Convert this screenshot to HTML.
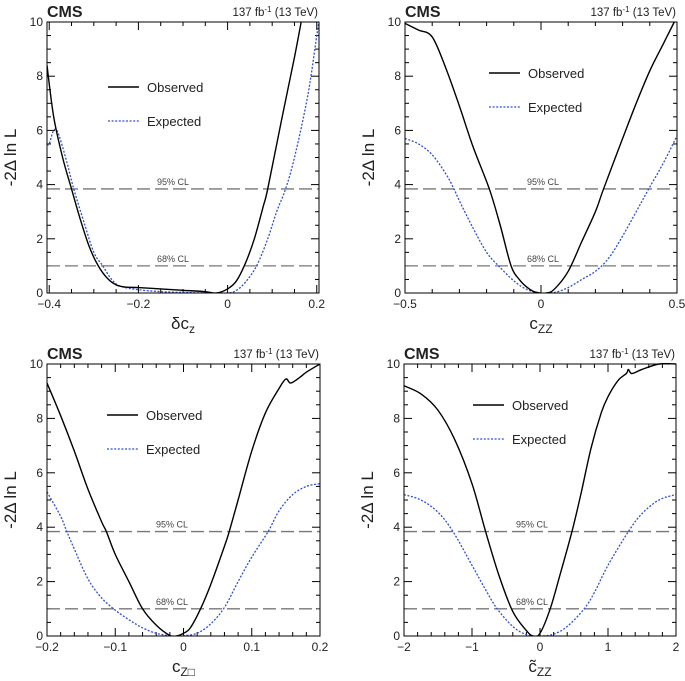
<!DOCTYPE html>
<html><head><meta charset="utf-8"><style>
html,body{margin:0;padding:0;background:#fff;}
svg{display:block;font-family:"Liberation Sans","DejaVu Sans",sans-serif;}
</style></head><body>
<svg id="fig" width="685" height="681" viewBox="0 0 685 681" xmlns="http://www.w3.org/2000/svg"></svg>
<script>
// Panel 1: delta c_z
const p1X=[-0.405,-0.39,-0.37,-0.35,-0.33,-0.31,-0.29,-0.27,-0.25,-0.23,-0.2,-0.15,-0.1,-0.05,-0.025,0,0.02,0.04,0.06,0.08,0.09,0.12,0.15,0.165];
const p1Obs=[8.4,6.5,5.0,3.84,2.7,1.7,1.0,0.55,0.3,0.22,0.2,0.15,0.1,0.05,0.0,0.15,0.45,1.1,2.0,3.2,3.84,6.3,8.7,10];
const p1ExpX=[-0.405,-0.4,-0.39,-0.38,-0.36,-0.345,-0.32,-0.3,-0.28,-0.26,-0.24,-0.2,-0.15,-0.1,-0.05,0,0.02,0.04,0.065,0.09,0.11,0.13,0.15,0.18,0.2,0.205];
const p1Exp=[5.5,5.5,6.0,5.9,4.8,3.84,2.5,1.5,1.0,0.5,0.25,0.12,0.05,0.02,0.0,0.0,0.1,0.4,1.0,2.0,3.0,3.84,5.0,7.3,9.5,10];
// Panel 2: c_zz
const p2X=[-0.5,-0.45,-0.4,-0.35,-0.3,-0.25,-0.19,-0.15,-0.11,-0.08,-0.05,-0.02,0.02,0.05,0.1,0.15,0.2,0.23,0.3,0.35,0.4,0.45,0.49];
const p2Obs=[9.95,9.7,9.45,8.3,6.9,5.4,3.84,2.5,1.0,0.5,0.2,0.03,0,0.15,0.8,1.9,3.0,3.84,5.7,7.0,8.2,9.2,10];
const p2ExpX=[-0.5,-0.45,-0.4,-0.35,-0.32,-0.3,-0.25,-0.2,-0.156,-0.1,-0.05,0,0.05,0.1,0.15,0.2,0.25,0.3,0.35,0.396,0.45,0.5];
const p2Exp=[5.7,5.5,5.1,4.4,3.84,3.4,2.4,1.5,1.0,0.45,0.12,0.0,0.02,0.2,0.5,0.8,1.3,2.1,3.0,3.84,4.8,5.8];
// Panel 3: c_zbox
const p3X=[-0.2,-0.18,-0.16,-0.14,-0.12,-0.113,-0.1,-0.08,-0.06,-0.04,-0.02,-0.01,0,0.01,0.025,0.04,0.06,0.067,0.08,0.1,0.12,0.14,0.15,0.157,0.17,0.18,0.2];
const p3Obs=[9.3,8.1,6.8,5.4,4.2,3.84,3.0,2.0,1.0,0.4,0.02,0,0.1,0.3,1.0,1.9,3.3,3.84,5.0,6.8,8.2,9.1,9.45,9.3,9.5,9.7,10];
const p3ExpX=[-0.2,-0.18,-0.171,-0.16,-0.14,-0.12,-0.1,-0.08,-0.06,-0.04,-0.02,-0.01,0,0.02,0.04,0.06,0.08,0.1,0.124,0.14,0.16,0.18,0.2];
const p3Exp=[5.3,4.4,3.84,3.2,2.1,1.4,0.95,0.6,0.3,0.1,0.01,0,0.01,0.1,0.45,1.05,2.0,2.9,3.84,4.6,5.2,5.5,5.6];
// Panel 4: c~zz
const p4X=[-2,-1.75,-1.5,-1.25,-1.0,-0.8,-0.6,-0.4,-0.2,-0.1,0,0.15,0.3,0.47,0.6,0.75,0.9,1.0,1.15,1.27,1.3,1.35,1.5,1.75,2.0];
const p4Obs=[9.2,8.9,8.3,7.2,5.6,3.84,2.2,0.9,0.2,0,0.1,1.0,2.3,3.84,5.2,6.9,8.2,8.8,9.4,9.65,9.8,9.65,9.8,10.0,10.0];
const p4ExpX=[-2,-1.75,-1.5,-1.28,-1.0,-0.8,-0.63,-0.4,-0.2,0,0.2,0.4,0.65,0.8,1.0,1.3,1.5,1.75,2.0];
const p4Exp=[5.2,5.0,4.55,3.84,2.6,1.7,1.0,0.35,0.05,0,0.07,0.35,1.0,1.6,2.6,3.84,4.5,5.0,5.2];

const yTicks=[0,2,4,6,8,10];
const clLevels=[3.84,1.0];
const clLabels=["95% CL","68% CL"];

const NS="http://www.w3.org/2000/svg";
const svg=document.getElementById('fig');
function mk(tag,attrs,parent){const e=document.createElementNS(NS,tag);for(const k in attrs)e.setAttribute(k,attrs[k]);(parent||svg).appendChild(e);return e;}
function smooth(pts){
  let d="M"+pts[0][0].toFixed(2)+","+pts[0][1].toFixed(2);
  for(let i=0;i<pts.length-1;i++){
    const p0=pts[Math.max(i-1,0)],p1=pts[i],p2=pts[i+1],p3=pts[Math.min(i+2,pts.length-1)];
    const c1=[p1[0]+(p2[0]-p0[0])/6,p1[1]+(p2[1]-p0[1])/6];
    const c2=[p2[0]-(p3[0]-p1[0])/6,p2[1]-(p3[1]-p1[1])/6];
    d+="C"+c1[0].toFixed(2)+","+c1[1].toFixed(2)+" "+c2[0].toFixed(2)+","+c2[1].toFixed(2)+" "+p2[0].toFixed(2)+","+p2[1].toFixed(2);
  }
  return d;
}
const panels=[
 {id:"dcz",x0:47,x1:319,y0:22,y1:293,xmin:-0.405,xmax:0.205,xt:[-0.4,-0.2,0,0.2],xl:["\u22120.4","\u22120.2","0","0.2"],minor:0.05,
  ox:p1X,oy:p1Obs,ex:p1ExpX,ey:p1Exp,lx:108,ly:87,clx:173,title:"dcz"},
 {id:"czz",x0:405,x1:677,y0:22,y1:293,xmin:-0.5,xmax:0.5,xt:[-0.5,0,0.5],xl:["\u22120.5","0","0.5"],minor:0.1,
  ox:p2X,oy:p2Obs,ex:p2ExpX,ey:p2Exp,lx:489,ly:73,clx:543,title:"czz"},
 {id:"czbox",x0:47,x1:320,y0:364,y1:636,xmin:-0.2,xmax:0.2,xt:[-0.2,-0.1,0,0.1,0.2],xl:["\u22120.2","\u22120.1","0","0.1","0.2"],minor:0.02,
  ox:p3X,oy:p3Obs,ex:p3ExpX,ey:p3Exp,lx:107,ly:415,clx:172,title:"czbox"},
 {id:"cttzz",x0:404,x1:676,y0:364,y1:636,xmin:-2,xmax:2,xt:[-2,-1,0,1,2],xl:["\u22122","\u22121","0","1","2"],minor:0.2,
  ox:p4X,oy:p4Obs,ex:p4ExpX,ey:p4Exp,lx:473,ly:405,clx:532,title:"cttzz"}
];
panels.forEach(p=>{
  const g=mk('g',{});
  
  
  const sx=v=>p.x0+(v-p.xmin)/(p.xmax-p.xmin)*(p.x1-p.x0);
  const sy=v=>p.y1-v/10*(p.y1-p.y0);
  const clip=mk('clipPath',{id:'clip-'+p.id},g);
  mk('rect',{x:p.x0,y:p.y0-1,width:p.x1-p.x0,height:p.y1-p.y0+1},clip);
  const tk=mk('g',{stroke:'#000','stroke-width':1},g);
  
  
  for(let v=0;v<=10.001;v+=0.5){
    const y=sy(v), major=Math.abs(v/2-Math.round(v/2))<1e-6, L=major?8:4;
    mk('line',{x1:p.x0,x2:p.x0+L,y1:y,y2:y},tk);
    mk('line',{x1:p.x1,x2:p.x1-L,y1:y,y2:y},tk);
  }
  const n=Math.round((p.xmax-p.xmin)/p.minor)+2;
  const start=Math.ceil((p.xmin-1e-9)/p.minor)*p.minor;
  for(let i=0;i<n;i++){
    const v=start+i*p.minor; if(v>p.xmax+1e-9)break;
    const major=p.xt.some(t=>Math.abs(t-v)<1e-6), L=major?8:4, x=sx(v);
    mk('line',{x1:x,x2:x,y1:p.y1,y2:p.y1-L},tk);
    mk('line',{x1:x,x2:x,y1:p.y0,y2:p.y0+L},tk);
  }
  clLevels.forEach((lv,i)=>{
    const l=mk('line',{x1:p.x0,x2:p.x1,y1:sy(lv),y2:sy(lv),stroke:'#777','stroke-width':1.3,'stroke-dasharray':'13,5'},g);
    
    
    const t=mk('text',{x:p.clx,y:sy(lv)-4,'font-size':9,fill:'#444','text-anchor':'middle'},g);
    t.textContent=clLabels[i];
    
    
  });
  const ep=mk('path',{d:smooth(p.ex.map((x,i)=>[sx(x),sy(p.ey[i])])),fill:'none',stroke:'#3050d0','stroke-width':1.3,'stroke-dasharray':'2,1.6','clip-path':'url(#clip-'+p.id+')'},g);
  
  
  const op=mk('path',{d:smooth(p.ox.map((x,i)=>[sx(x),sy(p.oy[i])])),fill:'none',stroke:'#000','stroke-width':1.4,'clip-path':'url(#clip-'+p.id+')'},g);
  
  
  const fr=mk('rect',{x:p.x0,y:p.y0,width:p.x1-p.x0,height:p.y1-p.y0,fill:'none',stroke:'#000','stroke-width':1},g);
  
  
  yTicks.forEach(v=>{
    const t=mk('text',{x:p.x0-4,y:sy(v)+4,'font-size':12,'text-anchor':'end',fill:'#222'},g);
    t.textContent=String(v);
    
    
  });
  p.xt.forEach((v,i)=>{
    const t=mk('text',{x:sx(v),y:p.y1+15,'font-size':12,'text-anchor':'middle',fill:'#222'},g);
    t.textContent=p.xl[i];
    
    
  });
  const lg=mk('g',{},g);
  
  
  mk('line',{x1:p.lx,x2:p.lx+31,y1:p.ly,y2:p.ly,stroke:'#000','stroke-width':1.6},lg);
  let t=mk('text',{x:p.lx+39,y:p.ly+5,'font-size':13,fill:'#222'},lg);t.textContent="Observed";
  
  
  mk('line',{x1:p.lx,x2:p.lx+31,y1:p.ly+34,y2:p.ly+34,stroke:'#3050d0','stroke-width':1.3,'stroke-dasharray':'2,1.6'},lg);
  t=mk('text',{x:p.lx+39,y:p.ly+39,'font-size':13,fill:'#222'},lg);t.textContent="Expected";
  
  
  t=mk('text',{x:p.x0,y:p.y0-5,'font-size':16,'font-weight':'bold',fill:'#222'},g);t.textContent="CMS";
  
  
  t=mk('text',{x:p.x1-1,y:p.y0-6,'font-size':11.5,'text-anchor':'end',fill:'#222'},g);
  t.innerHTML='137 fb<tspan dy="-4" font-size="8">-1</tspan><tspan dy="4"> (13 TeV)</tspan>';
  
  
  const cy=(p.y0+p.y1)/2, yx=p.x0-31;
  t=mk('text',{x:yx,y:cy,'font-size':17,'text-anchor':'middle',fill:'#222',transform:'rotate(-90 '+yx+' '+cy+')'},g);
  t.textContent="-2\u0394 ln L";
  
  
  const cx=(p.x0+p.x1)/2, ty=p.y1+36;
  t=mk('text',{x:cx,y:ty,'font-size':17,'text-anchor':'middle',fill:'#222'},g);
  if(p.title==="dcz") t.innerHTML='\u03b4c<tspan dy="4" font-size="12">z</tspan>';
  else if(p.title==="czz") t.innerHTML='c<tspan dy="4" font-size="12">ZZ</tspan>';
  else if(p.title==="czbox") t.innerHTML='c<tspan dy="4" font-size="12">Z\u25a1</tspan>';
  else t.innerHTML='c\u0303<tspan dy="4" font-size="12">ZZ</tspan>';
  
  
});
</script>
</body></html>
